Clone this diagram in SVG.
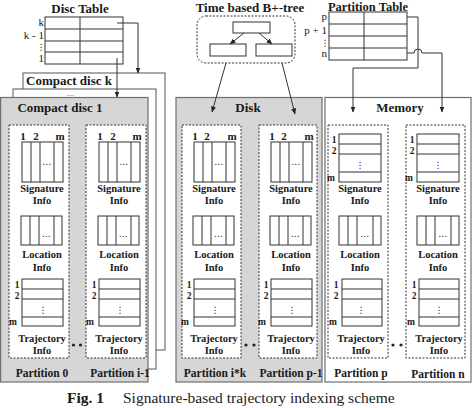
<svg xmlns="http://www.w3.org/2000/svg" width="474" height="408" viewBox="0 0 474 408">
<style>
.t{font-family:"Liberation Serif","Times New Roman",serif;fill:#1a1a1a;text-anchor:middle}
.b{font-weight:bold}
.h{font-size:13px;font-weight:bold}
.p{font-size:11.5px;font-weight:bold}
.s{font-size:10.5px;font-weight:bold}
.n{font-size:11px;font-weight:bold}
.m{font-size:9.5px;font-weight:bold}
.r{font-size:11px;text-anchor:end}
.d{font-size:10px;letter-spacing:0.5px}
.v{font-family:"DejaVu Sans",sans-serif;font-size:9px;fill:#1a1a1a;text-anchor:middle}
.tbl{fill:#fff;stroke:#333;stroke-width:1}
.ln{fill:none;stroke:#333;stroke-width:1}
.dash{fill:#fff;stroke:#333;stroke-width:1;stroke-dasharray:2 1.5}
.card{fill:#fff;stroke:#555;stroke-width:1}
.gray{fill:#d6d6d6;stroke:#6e6e6e;stroke-width:1.2}
.white{fill:#fff;stroke:#6e6e6e;stroke-width:1.2}
.conn{fill:none;stroke:#333;stroke-width:1;marker-end:url(#ah)}
</style>
<defs>
<marker id="ah" markerUnits="userSpaceOnUse" markerWidth="6" markerHeight="6" refX="5.5" refY="3" orient="auto">
<path d="M0,0.5 L6,3 L0,5.5 z" fill="#222"/>
</marker>
</defs>
<rect width="474" height="408" fill="#fff"/>

<g id="compact-disc-k">
<rect class="card" x="23" y="73" width="142" height="277"/>
<text class="t h" x="69" y="85">Compact disc k</text>
</g>
<g id="compact-disc-mid">
<rect class="card" x="13" y="89" width="143" height="280"/>
<text class="t" x="71" y="95.5" style="font-size:8px;letter-spacing:0.5px">...</text>
</g>
<g id="compact-disc-1">
<rect class="gray" x="0.6" y="97.5" width="147.4" height="284.5"/>
<text class="t h" x="60" y="112">Compact disc 1</text>
</g>
<g id="disk">
<rect class="gray" x="176" y="97.5" width="146" height="284.5"/>
<text class="t h" x="248" y="112">Disk</text>
</g>
<g id="memory">
<rect class="white" x="325" y="97.5" width="146" height="284.5"/>
<text class="t h" x="400" y="112">Memory</text>
</g>

<g id="disc-table">
<text class="t h" x="80" y="13">Disc Table</text>
<rect class="tbl" x="45" y="17" width="78" height="47"/>
<path class="ln" d="M45,29H123M45,41H123M45,52H123M80,17V64"/>
<text class="t r" x="44" y="26">k</text>
<text class="t r" x="44" y="39">k - 1</text>
<text class="v" x="41" y="50">⋮</text>
<text class="t r" x="44" y="62">1</text>
</g>

<g id="btree">
<text class="t h" x="250" y="12">Time based B+-tree</text>
<rect x="197" y="16" width="98" height="47" rx="9" fill="none" stroke="#333" stroke-dasharray="2 1.5"/>
<rect class="tbl" x="233" y="22" width="37" height="11"/>
<rect class="tbl" x="210" y="44" width="36" height="12"/>
<rect class="tbl" x="256" y="44" width="36" height="12"/>
<path class="conn" d="M244,33L230,44"/>
<path class="conn" d="M259,33L272,44"/>
</g>

<g id="partition-table">
<text class="t" x="368" y="11" style="font-size:12.5px;font-weight:bold">Partition Table</text>
<rect class="tbl" x="329" y="12" width="78" height="48"/>
<path class="ln" d="M329,24H407M329,36H407M329,48H407M364,12V60"/>
<text class="t r" x="327" y="20">p</text>
<text class="t r" x="327" y="34">p + 1</text>
<text class="v" x="325" y="46">⋮</text>
<text class="t r" x="327" y="57">n</text>
</g>

<g id="partition-0" transform="translate(9,125)">
<rect class="dash" width="60" height="233"/>
<text class="t n" x="14" y="15">1</text><text class="t n" x="27" y="15">2</text><text class="t n" x="51" y="15">m</text>
<rect class="tbl" x="13" y="17" width="41" height="40"/>
<path class="ln" d="M22,17V57M31,17V57M45,17V57"/>
<text class="t d" x="38" y="40">...</text>
<text class="t s" x="33" y="67">Signature</text><text class="t s" x="33" y="79">Info</text>
<rect class="tbl" x="12" y="91" width="41" height="29"/>
<path class="ln" d="M21,91V120M30,91V120M45,91V120"/>
<text class="t d" x="37.5" y="112">...</text>
<text class="t s" x="33" y="133">Location</text><text class="t s" x="33" y="146">Info</text>
<rect class="tbl" x="13" y="154" width="41" height="47"/>
<path class="ln" d="M13,164H54M13,174H54M13,192H54"/>
<text class="t m" x="8" y="163">1</text><text class="t m" x="8" y="174">2</text><text class="t m" x="4" y="200">m</text>
<text class="v" x="34" y="188">⋮</text>
<text class="t s" x="33" y="217">Trajectory</text><text class="t s" x="33" y="229">Info</text>
</g>

<g id="partition-i-1" transform="translate(86,125)">
<rect class="dash" width="60" height="233"/>
<text class="t n" x="14" y="15">1</text><text class="t n" x="27" y="15">2</text><text class="t n" x="51" y="15">m</text>
<rect class="tbl" x="13" y="17" width="41" height="40"/>
<path class="ln" d="M22,17V57M31,17V57M45,17V57"/>
<text class="t d" x="38" y="40">...</text>
<text class="t s" x="33" y="67">Signature</text><text class="t s" x="33" y="79">Info</text>
<rect class="tbl" x="12" y="91" width="41" height="29"/>
<path class="ln" d="M21,91V120M30,91V120M45,91V120"/>
<text class="t d" x="37.5" y="112">...</text>
<text class="t s" x="33" y="133">Location</text><text class="t s" x="33" y="146">Info</text>
<rect class="tbl" x="13" y="154" width="41" height="47"/>
<path class="ln" d="M13,164H54M13,174H54M13,192H54"/>
<text class="t m" x="8" y="163">1</text><text class="t m" x="8" y="174">2</text><text class="t m" x="4" y="200">m</text>
<text class="v" x="34" y="188">⋮</text>
<text class="t s" x="33" y="217">Trajectory</text><text class="t s" x="33" y="229">Info</text>
</g>

<g id="partition-ik" transform="translate(182,125)">
<rect class="dash" width="59" height="233"/>
<text class="t n" x="13" y="15">1</text><text class="t n" x="25" y="15">2</text><text class="t n" x="50" y="15">m</text>
<rect class="tbl" x="12" y="17" width="41" height="40"/>
<path class="ln" d="M21,17V57M30,17V57M44,17V57"/>
<text class="t d" x="37" y="40">...</text>
<text class="t s" x="32" y="67">Signature</text><text class="t s" x="32" y="79">Info</text>
<rect class="tbl" x="11" y="91" width="41" height="29"/>
<path class="ln" d="M20,91V120M29,91V120M44,91V120"/>
<text class="t d" x="36.5" y="112">...</text>
<text class="t s" x="32" y="133">Location</text><text class="t s" x="32" y="146">Info</text>
<rect class="tbl" x="12" y="154" width="41" height="47"/>
<path class="ln" d="M12,164H53M12,174H53M12,192H53"/>
<text class="t m" x="7" y="163">1</text><text class="t m" x="7" y="174">2</text><text class="t m" x="3" y="200">m</text>
<text class="v" x="33" y="188">⋮</text>
<text class="t s" x="32" y="217">Trajectory</text><text class="t s" x="32" y="229">Info</text>
</g>

<g id="partition-p-1" transform="translate(259,125)">
<rect class="dash" width="58" height="233"/>
<text class="t n" x="13" y="15">1</text><text class="t n" x="25" y="15">2</text><text class="t n" x="50" y="15">m</text>
<rect class="tbl" x="12" y="17" width="41" height="40"/>
<path class="ln" d="M21,17V57M30,17V57M44,17V57"/>
<text class="t d" x="37" y="40">...</text>
<text class="t s" x="32" y="67">Signature</text><text class="t s" x="32" y="79">Info</text>
<rect class="tbl" x="11" y="91" width="41" height="29"/>
<path class="ln" d="M20,91V120M29,91V120M44,91V120"/>
<text class="t d" x="36.5" y="112">...</text>
<text class="t s" x="32" y="133">Location</text><text class="t s" x="32" y="146">Info</text>
<rect class="tbl" x="12" y="154" width="41" height="47"/>
<path class="ln" d="M12,164H53M12,174H53M12,192H53"/>
<text class="t m" x="7" y="163">1</text><text class="t m" x="7" y="174">2</text><text class="t m" x="3" y="200">m</text>
<text class="v" x="33" y="188">⋮</text>
<text class="t s" x="32" y="217">Trajectory</text><text class="t s" x="32" y="229">Info</text>
</g>

<g id="partition-p" transform="translate(328,125)">
<rect class="dash" width="60" height="233"/>
<rect class="tbl" x="11" y="9" width="42" height="48"/>
<path class="ln" d="M11,19H53M11,29H53M11,47H53"/>
<text class="t m" x="6" y="18">1</text><text class="t m" x="6" y="29">2</text><text class="t m" x="3" y="56">m</text>
<text class="v" x="32" y="43">⋮</text>
<text class="t s" x="32" y="67">Signature</text><text class="t s" x="32" y="79">Info</text>
<rect class="tbl" x="11" y="91" width="42" height="29"/>
<path class="ln" d="M20,91V120M29,91V120M45,91V120"/>
<text class="t d" x="37" y="112">...</text>
<text class="t s" x="32" y="133">Location</text><text class="t s" x="32" y="146">Info</text>
<rect class="tbl" x="14" y="154" width="40" height="47"/>
<path class="ln" d="M14,164H54M14,174H54M14,192H54"/>
<text class="t m" x="8" y="163">1</text><text class="t m" x="8" y="174">2</text><text class="t m" x="5" y="200">m</text>
<text class="v" x="33" y="188">⋮</text>
<text class="t s" x="33" y="217">Trajectory</text><text class="t s" x="33" y="229">Info</text>
</g>

<g id="partition-n" transform="translate(406,125)">
<rect class="dash" width="59" height="233"/>
<rect class="tbl" x="11" y="9" width="42" height="48"/>
<path class="ln" d="M11,19H53M11,29H53M11,47H53"/>
<text class="t m" x="6" y="18">1</text><text class="t m" x="6" y="29">2</text><text class="t m" x="3" y="56">m</text>
<text class="v" x="32" y="43">⋮</text>
<text class="t s" x="32" y="67">Signature</text><text class="t s" x="32" y="79">Info</text>
<rect class="tbl" x="11" y="91" width="42" height="29"/>
<path class="ln" d="M20,91V120M29,91V120M45,91V120"/>
<text class="t d" x="37" y="112">...</text>
<text class="t s" x="32" y="133">Location</text><text class="t s" x="32" y="146">Info</text>
<rect class="tbl" x="13" y="154" width="40" height="47"/>
<path class="ln" d="M13,164H53M13,174H53M13,192H53"/>
<text class="t m" x="8" y="163">1</text><text class="t m" x="8" y="174">2</text><text class="t m" x="5" y="200">m</text>
<text class="v" x="33" y="188">⋮</text>
<text class="t s" x="33" y="217">Trajectory</text><text class="t s" x="33" y="229">Info</text>
</g>

<g id="partition-labels">
<text class="t p" x="42" y="377">Partition 0</text>
<text class="t p" x="120" y="377">Partition i-1</text>
<text class="t p" x="215" y="377">Partition i*k</text>
<text class="t p" x="291" y="377">Partition p-1</text>
<text class="t p" x="361" y="377">Partition p</text>
<text class="t p" x="438" y="378">Partition n</text>
</g>
<g id="ellipsis-dots" fill="#222">
<circle cx="73.5" cy="345" r="1.6"/><circle cx="80.5" cy="345" r="1.6"/>
<circle cx="246" cy="345" r="1.6"/><circle cx="254" cy="345" r="1.6"/>
<circle cx="393" cy="345" r="1.6"/><circle cx="401" cy="345" r="1.6"/>
</g>

<g id="connectors">
<path class="conn" d="M117,23H138V73"/>
<path class="conn" d="M117,58V97"/>
<path class="conn" d="M226,63L212,112"/>
<path class="conn" d="M282,63L295,114"/>
<path class="conn" d="M407,17H418V68H353V112"/>
<path class="conn" d="M407,53H414A4,4 0 0 1 422,53H442V112"/>
</g>

<g id="caption">
<text class="t b" x="67" y="403" style="font-size:15.5px;text-anchor:start">Fig. 1</text>
<text class="t" x="123" y="403" style="font-size:15.5px;text-anchor:start">Signature-based trajectory indexing scheme</text>
</g>
</svg>
